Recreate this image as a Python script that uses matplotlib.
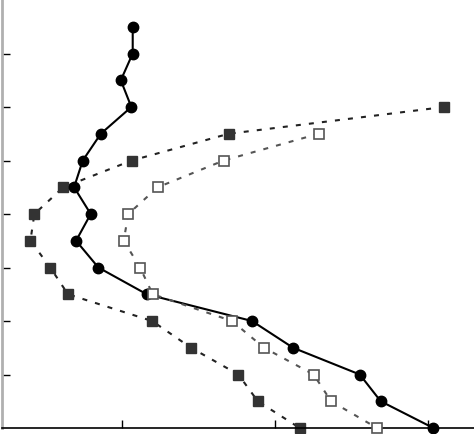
import matplotlib
matplotlib.use("Agg")
import matplotlib.pyplot as plt

# depth levels (half-unit steps, bottom = 0)
circ_y = [7.5, 7.0, 6.5, 6.0, 5.5, 5.0, 4.5, 4.0, 3.5, 3.0, 2.5, 2.0, 1.5, 1.0, 0.5, 0.0]
circ_x = [1.068, 1.068, 0.990, 1.059, 0.859, 0.741, 0.684, 0.793, 0.697, 0.843,
          1.160, 1.849, 2.118, 2.555, 2.692, 3.037]

fsq_y = [6.0, 5.5, 5.0, 4.5, 4.0, 3.5, 3.0, 2.5, 2.0, 1.5, 1.0, 0.5, 0.0]
fsq_x = [3.107, 1.697, 1.062, 0.614, 0.424, 0.398, 0.528, 0.644, 1.195, 1.450,
         1.760, 1.887, 2.162]

osq_y = [5.5, 5.0, 4.5, 4.0, 3.5, 3.0, 2.5, 2.0, 1.5, 1.0, 0.5, 0.0]
osq_x = [2.286, 1.664, 1.232, 1.039, 1.009, 1.116, 1.199, 1.718, 1.928, 2.253,
         2.367, 2.668]

xticks = [1, 2, 3]
yticks = [1, 2, 3, 4, 5, 6, 7]

fig = plt.figure(figsize=(4.74, 4.34), dpi=100)
ax = fig.add_axes([2 / 474, 6 / 434, 472 / 474, 428 / 434])

dash = (0, (2.4, 3.9))

# filled squares, dashed black
ax.plot(fsq_x, fsq_y, color="#222222", linestyle=dash, linewidth=1.5,
        marker="s", markersize=6.5, markerfacecolor="#333333",
        markeredgecolor="#333333", zorder=2, clip_on=False)

# solid line with circles
ax.plot(circ_x, circ_y, color="black", linestyle="-", linewidth=1.5,
        marker="o", markersize=7.5, markerfacecolor="black",
        markeredgecolor="black", zorder=3, clip_on=False)

# open squares, grey dashed
ax.plot(osq_x, osq_y, color="#555555", linestyle=dash, linewidth=1.5,
        marker="s", markersize=6.5, markerfacecolor="white",
        markeredgecolor="#555555", markeredgewidth=1.2, zorder=4, clip_on=False)

ax.set_xlim(0.212, 3.303)
ax.set_ylim(0, 8.0)
ax.set_xticks(xticks)
ax.set_yticks(yticks)
ax.set_xticklabels([])
ax.set_yticklabels([])
ax.tick_params(direction="in", length=6, width=1, colors="black")

ax.spines["top"].set_visible(False)
ax.spines["right"].set_visible(False)
ax.spines["left"].set_color("#b0b0b0")
ax.spines["left"].set_linewidth(2)
ax.spines["bottom"].set_color("black")
ax.spines["bottom"].set_linewidth(1.2)

plt.savefig("out.png", dpi=100)
